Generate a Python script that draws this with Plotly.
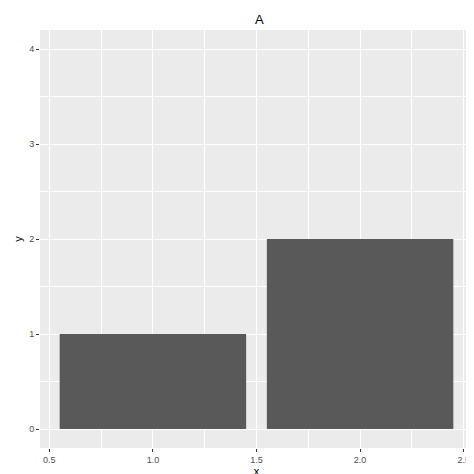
import plotly.graph_objects as go

x = [1, 2]
y = [1, 2]

fig = go.Figure(go.Bar(x=x, y=y, width=0.9, marker=dict(color="#595959", line=dict(width=0))))

axis_common = dict(
    showgrid=True, gridcolor="white", gridwidth=1.2,
    ticks="outside", ticklen=3, tickcolor="#333333",
    tickfont=dict(size=9, color="#4d4d4d", family="Liberation Sans"),
    zeroline=False, showline=False, automargin=False,
)
fig.update_xaxes(range=[0.455, 2.545], tickvals=[0.5, 1.0, 1.5, 2.0, 2.5],
                 ticktext=["0.5", "1.0", "1.5", "2.0", "2.5"],
                 minor=dict(showgrid=True, gridcolor="white", gridwidth=0.5,
                            tickvals=[0.75, 1.25, 1.75, 2.25], ticks=""),
                 title=dict(text="x", font=dict(size=11, color="black"), standoff=2),
                 **axis_common)
fig.update_yaxes(range=[-0.2, 4.2], tickvals=[0, 1, 2, 3, 4],
                 minor=dict(showgrid=True, gridcolor="white", gridwidth=0.5,
                            tickvals=[0.5, 1.5, 2.5, 3.5], ticks=""),
                 title=dict(text="y", font=dict(size=11, color="black"), standoff=4),
                 **axis_common)

fig.update_layout(
    width=474, height=474,
    title=dict(text="A", x=0.53, xanchor="center", y=0.985, yanchor="top",
               font=dict(size=13, color="black", family="Liberation Sans")),
    plot_bgcolor="#EBEBEB", paper_bgcolor="white",
    margin=dict(l=32, r=9, t=22, b=34),
    font=dict(family="Liberation Sans"),
    showlegend=False,
)

fig.write_html("out.html")
